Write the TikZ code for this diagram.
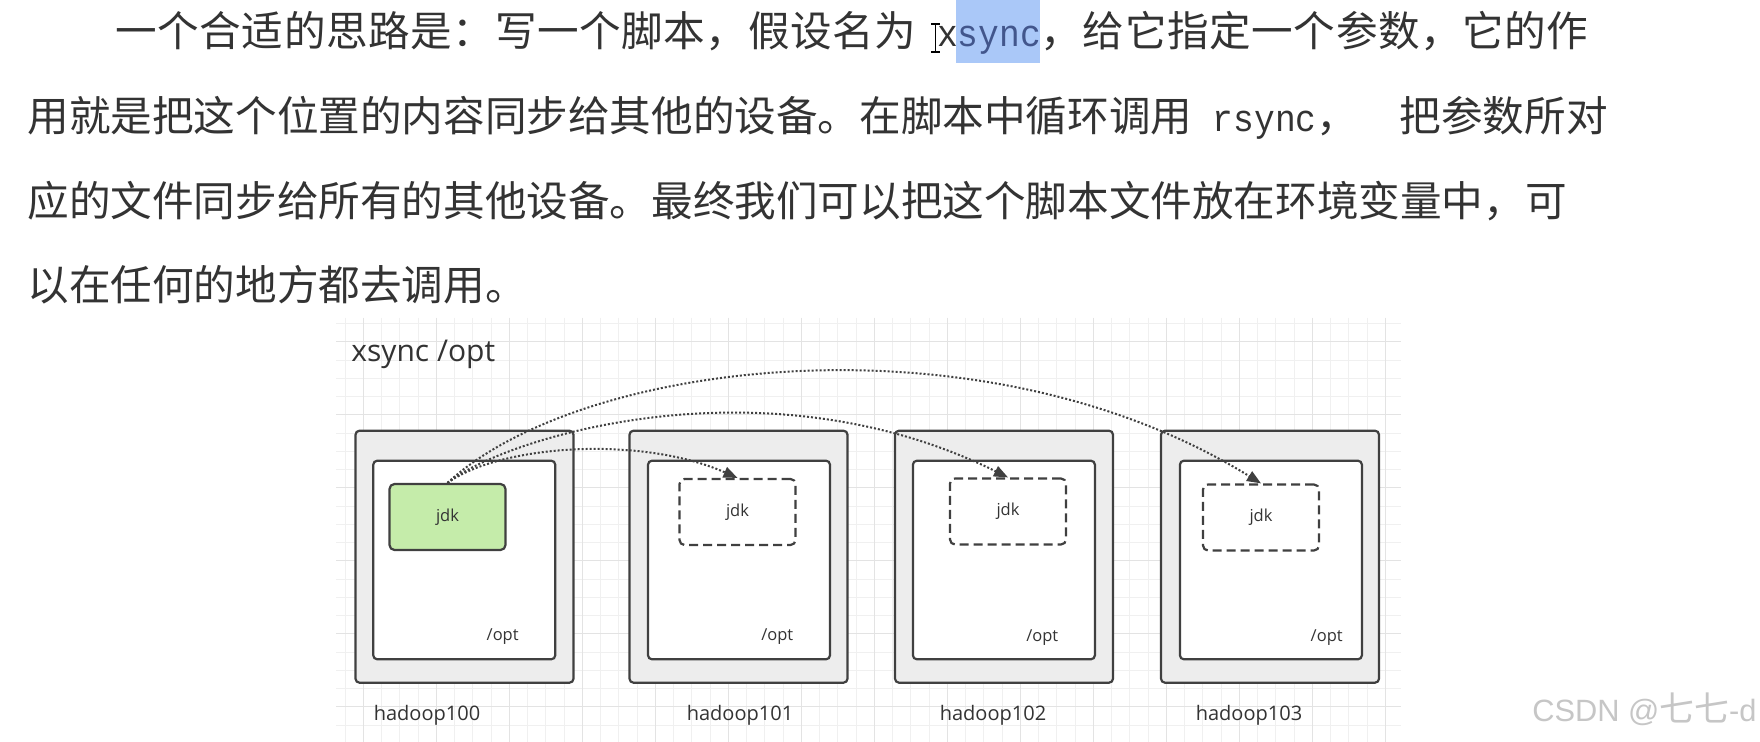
\documentclass[tikz,border=0pt]{standalone}
\usepackage{fontspec}
\setmainfont{Open Sans}
\newfontfamily\cjk{Noto Sans CJK SC}
\newfontfamily\cjkwide[LetterSpace=1.4]{Noto Sans CJK SC}
\newfontfamily\halfwd[FakeStretch=0.91]{Liberation Mono}
\newfontfamily\wmfont{Liberation Sans}
\usetikzlibrary{arrows.meta}
\definecolor{inkgray}{RGB}{64,64,64}
\definecolor{hostfill}{RGB}{237,237,237}
\definecolor{jdkgreen}{RGB}{197,236,170}
\definecolor{selblue}{RGB}{170,200,248}
\definecolor{synctext}{RGB}{66,86,140}
\definecolor{labelgray}{RGB}{51,51,51}
\newcommand\latinrun[1]{{\halfwd\fontsize{19pt}{24pt}\selectfont#1}}
\tikzset{
  bodytext/.style={anchor=base west, inner sep=0pt, text=black!80, font=\cjk\fontsize{20.8pt}{24pt}\selectfont},
  gridline/.style={draw=gray!12, line width=0.5pt},
  gridmajor/.style={draw=gray!22, line width=0.6pt},
  hostbox/.style={draw=inkgray, fill=hostfill, line width=1.1pt, rounded corners=2pt, inner sep=0pt, minimum width=109pt, minimum height=126pt},
  dirbox/.style={draw=inkgray, fill=white, line width=1.1pt, rounded corners=2pt, inner sep=0pt, minimum width=91pt, minimum height=99.3pt},
  jdkbox/.style={draw=inkgray, line width=1.1pt, rounded corners=2.5pt, inner sep=0pt, minimum width=58pt, minimum height=33pt, text=labelgray, font=\fontsize{8.25pt}{10pt}\selectfont},
  copybox/.style={fill=white, dash pattern=on 4.5pt off 2.5pt},
  pathlabel/.style={inner sep=0pt, text=labelgray, font=\fontsize{8.25pt}{10pt}\selectfont},
  hostlabel/.style={inner sep=0pt, text=labelgray, font=\fontsize{10pt}{12pt}\selectfont},
  cmdlabel/.style={anchor=base west, inner sep=0pt, text=labelgray, font=\fontsize{15pt}{18pt}\selectfont},
  syncline/.style={draw=inkgray, line width=1pt, dash pattern=on 1pt off 1pt, -{Triangle[length=7pt,width=5.5pt]}}
}
\begin{document}
\begin{tikzpicture}[x=0.5pt, y=-0.5pt]
  \useasboundingbox (0,0) rectangle (1760,742);
  \fill[white] (0,0) rectangle (1760,742);
  \fill[selblue] (955.7,0) rectangle (1040,62.7);
  \node[bodytext] (line1) at (115,47) {\cjkwide 一个合适的思路是：写一个脚本，假设名为\latinrun{\ x\textcolor{synctext}{sync}}，给它指定一个参数，它的作};
  \node[bodytext] (line2) at (27,131.5) {用就是把这个位置的内容同步给其他的设备。在脚本中循环调用\latinrun{\ rsync}，\latinrun{\ \ }把参数所对};
  \node[bodytext] (line3) at (27,216.5) {应的文件同步给所有的其他设备。最终我们可以把这个脚本文件放在环境变量中，可};
  \node[bodytext] (line4) at (27,301) {以在任何的地方都去调用。};
  \draw[black, line width=0.6pt] (935.5,24) -- (935.5,52) (931,24) -- (940,24) (931,52) -- (940,52);
  \foreach \gx in {0,...,57} \draw[gridline] ({345.05+18.25*\gx},318) -- ({345.05+18.25*\gx},742);
  \foreach \gy in {0,...,22} \draw[gridline] (336,{323.55+18.25*\gy}) -- (1401,{323.55+18.25*\gy});
  \foreach \gx in {1,5,...,57} \draw[gridmajor] ({345.05+18.25*\gx},318) -- ({345.05+18.25*\gx},742);
  \foreach \gy in {1,5,...,21} \draw[gridmajor] (336,{323.55+18.25*\gy}) -- (1401,{323.55+18.25*\gy});
  \node[cmdlabel] (cmd) at (351,361.5) {xsync /opt};
  \foreach \n/\hx/\dx/\ox/\oy/\lx in {0/464.5/464.25/502.7/637/427, 1/738.5/739/777.3/637/740, 2/1004/1003.9/1042.3/637.3/993, 3/1270/1270.9/1326.7/637.3/1249} {
    \node[hostbox] (host\n) at (\hx,556.7) {};
    \node[dirbox] (dir\n) at (\dx,560) {};
    \node[pathlabel] (opt\n) at (\ox,\oy) {/opt};
    \node[hostlabel] (name\n) at (\lx,715) {hadoop10\n};
  }
  \node[jdkbox, fill=jdkgreen] (jdk0) at (447.5,517) {jdk};
  \foreach \n/\jx/\jy in {1/737.5/512, 2/1008/511.5, 3/1261/517.5}
    \node[jdkbox, copybox] (jdk\n) at (\jx,\jy) {jdk};
  \draw[syncline] (jdk0.north) .. controls (500,445) and (640,435) .. (jdk1.north);
  \draw[syncline] (jdk0.north) .. controls (500,440) and (760,355) .. (jdk2.north);
  \draw[syncline] (jdk0.north) .. controls (580,360) and (980,310) .. (jdk3.north);
  \node[anchor=base west, inner sep=0pt, text=gray!45, font=\wmfont\fontsize{15.4pt}{18pt}\selectfont] (mark) at (1532,721.5) {CSDN @{\cjk\fontsize{17.4pt}{18pt}\selectfont 七七}-d};
\end{tikzpicture}
\end{document}
